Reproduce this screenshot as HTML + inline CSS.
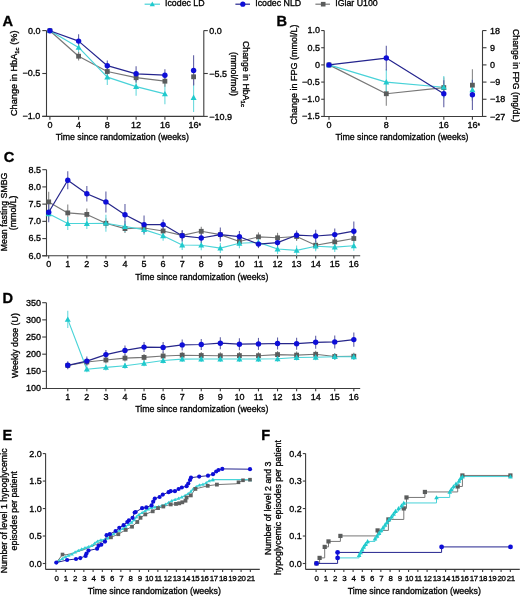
<!DOCTYPE html>
<html><head><meta charset="utf-8"><style>
html,body{margin:0;padding:0;background:#fff;-webkit-font-smoothing:antialiased;}
body{width:520px;height:596px;overflow:hidden;}
svg{display:block;will-change:transform;font-family:"Liberation Sans",sans-serif;}
text{stroke:#000;stroke-width:0.32px;paint-order:stroke;}
</style></head><body>
<svg width="520" height="596" viewBox="0 0 520 596">
<rect width="520" height="596" fill="#fff"/>
<line x1="144.6" y1="4.2" x2="160" y2="4.2" stroke="#48d2d8" stroke-width="1.2"/>
<polygon points="152.3,1.58 149.7,6.26 154.9,6.26" fill="#20cacd"/>
<text x="165" y="5.9" font-size="8.8" text-anchor="start" font-weight="normal" fill="#000">Icodec LD</text>
<line x1="235.4" y1="4.2" x2="250" y2="4.2" stroke="#24248e" stroke-width="1.2"/>
<circle cx="242.8" cy="4.2" r="2.6" fill="#0e0ed8"/>
<text x="255.2" y="5.9" font-size="8.8" text-anchor="start" font-weight="normal" fill="#000">Icodec NLD</text>
<line x1="315.4" y1="4.2" x2="330" y2="4.2" stroke="#777777" stroke-width="1.2"/>
<rect x="320.9" y="1.9" width="4.6" height="4.6" fill="#5a5c5c"/>
<text x="335.2" y="5.9" font-size="8.8" text-anchor="start" font-weight="normal" fill="#000">IGlar U100</text>
<text x="2.4" y="26.2" font-size="14.6" text-anchor="start" font-weight="bold" fill="#000">A</text>
<line x1="46.5" y1="30.6" x2="46.5" y2="116.95" stroke="#3c3c3c" stroke-width="1.1"/>
<line x1="42.3" y1="116.4" x2="203.8" y2="116.4" stroke="#3c3c3c" stroke-width="1.1"/>
<line x1="203.8" y1="30.6" x2="203.8" y2="116.95" stroke="#3c3c3c" stroke-width="1.1"/>
<line x1="42.3" y1="30.6" x2="46.5" y2="30.6" stroke="#3c3c3c" stroke-width="1.1"/>
<text x="40.4" y="33.5" font-size="9.0" text-anchor="end" font-weight="normal" fill="#000">0.0</text>
<line x1="42.3" y1="73.5" x2="46.5" y2="73.5" stroke="#3c3c3c" stroke-width="1.1"/>
<text x="40.4" y="76.4" font-size="9.0" text-anchor="end" font-weight="normal" fill="#000">−0.5</text>
<line x1="42.3" y1="116.4" x2="46.5" y2="116.4" stroke="#3c3c3c" stroke-width="1.1"/>
<text x="40.4" y="119.3" font-size="9.0" text-anchor="end" font-weight="normal" fill="#000">−1.0</text>
<line x1="203.8" y1="30.6" x2="207.8" y2="30.6" stroke="#3c3c3c" stroke-width="1.1"/>
<text x="209.3" y="33.7" font-size="9.0" text-anchor="start" font-weight="normal" fill="#000">0.0</text>
<line x1="203.8" y1="73.5" x2="207.8" y2="73.5" stroke="#3c3c3c" stroke-width="1.1"/>
<text x="209.3" y="76.6" font-size="9.0" text-anchor="start" font-weight="normal" fill="#000">−5.5</text>
<line x1="203.8" y1="116.4" x2="207.8" y2="116.4" stroke="#3c3c3c" stroke-width="1.1"/>
<text x="209.3" y="119.5" font-size="9.0" text-anchor="start" font-weight="normal" fill="#000">−10.9</text>
<line x1="49.9" y1="116.4" x2="49.9" y2="119.8" stroke="#3c3c3c" stroke-width="1.1"/>
<text x="49.9" y="128.1" font-size="9.0" text-anchor="middle" font-weight="normal" fill="#000">0</text>
<line x1="78.6" y1="116.4" x2="78.6" y2="119.8" stroke="#3c3c3c" stroke-width="1.1"/>
<text x="78.6" y="128.1" font-size="9.0" text-anchor="middle" font-weight="normal" fill="#000">4</text>
<line x1="107.3" y1="116.4" x2="107.3" y2="119.8" stroke="#3c3c3c" stroke-width="1.1"/>
<text x="107.3" y="128.1" font-size="9.0" text-anchor="middle" font-weight="normal" fill="#000">8</text>
<line x1="136.1" y1="116.4" x2="136.1" y2="119.8" stroke="#3c3c3c" stroke-width="1.1"/>
<text x="136.1" y="128.1" font-size="9.0" text-anchor="middle" font-weight="normal" fill="#000">12</text>
<line x1="164.9" y1="116.4" x2="164.9" y2="119.8" stroke="#3c3c3c" stroke-width="1.1"/>
<text x="164.9" y="128.1" font-size="9.0" text-anchor="middle" font-weight="normal" fill="#000">16</text>
<line x1="193.6" y1="116.4" x2="193.6" y2="119.8" stroke="#3c3c3c" stroke-width="1.1"/>
<text x="188.6" y="128.1" font-size="9.0" text-anchor="start" font-weight="normal" fill="#000">16<tspan font-size="6.5" dy="-0.6">*</tspan></text>
<text x="55.7" y="140.1" font-size="8.8" text-anchor="start" font-weight="normal" fill="#000">Time since randomization (weeks)</text>
<text transform="translate(16.8,73.3) rotate(-90)" font-size="9.2" text-anchor="middle" fill="#000">Change in HbA<tspan font-size="6" dy="2">1c</tspan><tspan dy="-2"> (%)</tspan></text>
<text transform="translate(243.3,73.9) rotate(90)" font-size="8.8" text-anchor="middle" fill="#000">Change in HbA<tspan font-size="6" dy="2">1c</tspan></text>
<text transform="translate(230.9,74.0) rotate(90)" font-size="8.8" text-anchor="middle" fill="#000">(mmol/mol)</text>
<line x1="78.6" y1="41.9" x2="78.6" y2="52.9" stroke="#6adade" stroke-width="1.1"/>
<line x1="78.6" y1="51.9" x2="78.6" y2="60.5" stroke="#888888" stroke-width="1.1"/>
<line x1="78.6" y1="34.2" x2="78.6" y2="48" stroke="#6262a6" stroke-width="1.1"/>
<line x1="107.3" y1="69.1" x2="107.3" y2="85.1" stroke="#6adade" stroke-width="1.1"/>
<line x1="107.3" y1="67" x2="107.3" y2="76" stroke="#888888" stroke-width="1.1"/>
<line x1="107.3" y1="60.4" x2="107.3" y2="71" stroke="#6262a6" stroke-width="1.1"/>
<line x1="136.1" y1="77.4" x2="136.1" y2="95.8" stroke="#6adade" stroke-width="1.1"/>
<line x1="136.1" y1="72.7" x2="136.1" y2="82.7" stroke="#888888" stroke-width="1.1"/>
<line x1="136.1" y1="66.2" x2="136.1" y2="81.4" stroke="#6262a6" stroke-width="1.1"/>
<line x1="164.9" y1="83.6" x2="164.9" y2="104.2" stroke="#6adade" stroke-width="1.1"/>
<line x1="164.9" y1="75.7" x2="164.9" y2="86.7" stroke="#888888" stroke-width="1.1"/>
<line x1="164.9" y1="69.2" x2="164.9" y2="81.2" stroke="#6262a6" stroke-width="1.1"/>
<line x1="193.6" y1="83.3" x2="193.6" y2="111.9" stroke="#6adade" stroke-width="1.1"/>
<line x1="193.6" y1="68.8" x2="193.6" y2="84.8" stroke="#888888" stroke-width="1.1"/>
<line x1="193.6" y1="55.2" x2="193.6" y2="85.6" stroke="#6262a6" stroke-width="1.1"/>
<polyline points="49.9,30.7 78.6,56.2 107.3,71.5 136.1,77.7 164.9,81.2" fill="none" stroke="#777777" stroke-width="1.2" stroke-linejoin="round"/>
<polyline points="49.9,30.7 78.6,47.4 107.3,77.1 136.1,86.6 164.9,93.9" fill="none" stroke="#48d2d8" stroke-width="1.2" stroke-linejoin="round"/>
<polyline points="49.9,30.7 78.6,41.1 107.3,65.7 136.1,73.8 164.9,75.2" fill="none" stroke="#24248e" stroke-width="1.2" stroke-linejoin="round"/>
<rect x="47.5" y="28.3" width="4.8" height="4.8" fill="#5a5c5c"/>
<polygon points="49.9,27.68 46.9,33.08 52.9,33.08" fill="#20cacd"/>
<circle cx="49.9" cy="30.7" r="2.7" fill="#0e0ed8"/>
<rect x="76.2" y="53.8" width="4.8" height="4.8" fill="#5a5c5c"/>
<polygon points="78.6,44.38 75.6,49.78 81.6,49.78" fill="#20cacd"/>
<circle cx="78.6" cy="41.1" r="2.7" fill="#0e0ed8"/>
<rect x="104.9" y="69.1" width="4.8" height="4.8" fill="#5a5c5c"/>
<polygon points="107.3,74.08 104.3,79.48 110.3,79.48" fill="#20cacd"/>
<circle cx="107.3" cy="65.7" r="2.7" fill="#0e0ed8"/>
<rect x="133.7" y="75.3" width="4.8" height="4.8" fill="#5a5c5c"/>
<polygon points="136.1,83.58 133.1,88.98 139.1,88.98" fill="#20cacd"/>
<circle cx="136.1" cy="73.8" r="2.7" fill="#0e0ed8"/>
<rect x="162.5" y="78.8" width="4.8" height="4.8" fill="#5a5c5c"/>
<polygon points="164.9,90.88 161.9,96.28 167.9,96.28" fill="#20cacd"/>
<circle cx="164.9" cy="75.2" r="2.7" fill="#0e0ed8"/>
<rect x="191.2" y="74.4" width="4.8" height="4.8" fill="#5a5c5c"/>
<polygon points="193.6,94.58 190.6,99.98 196.6,99.98" fill="#20cacd"/>
<circle cx="193.6" cy="70.4" r="2.7" fill="#0e0ed8"/>
<text x="276.4" y="26.2" font-size="14.6" text-anchor="start" font-weight="bold" fill="#000">B</text>
<line x1="324.2" y1="30.55" x2="324.2" y2="116.98" stroke="#3c3c3c" stroke-width="1.1"/>
<line x1="321.2" y1="116.43" x2="482.5" y2="116.43" stroke="#3c3c3c" stroke-width="1.1"/>
<line x1="482.5" y1="30.55" x2="482.5" y2="116.98" stroke="#3c3c3c" stroke-width="1.1"/>
<line x1="321.2" y1="30.55" x2="324.2" y2="30.55" stroke="#3c3c3c" stroke-width="1.1"/>
<text x="319.9" y="33.45" font-size="9.0" text-anchor="end" font-weight="normal" fill="#000">1.0</text>
<line x1="482.5" y1="30.55" x2="486.5" y2="30.55" stroke="#3c3c3c" stroke-width="1.1"/>
<text x="490" y="33.65" font-size="9.0" text-anchor="start" font-weight="normal" fill="#000">18</text>
<line x1="321.2" y1="47.73" x2="324.2" y2="47.73" stroke="#3c3c3c" stroke-width="1.1"/>
<text x="319.9" y="50.63" font-size="9.0" text-anchor="end" font-weight="normal" fill="#000">0.5</text>
<line x1="482.5" y1="47.73" x2="486.5" y2="47.73" stroke="#3c3c3c" stroke-width="1.1"/>
<text x="490" y="50.83" font-size="9.0" text-anchor="start" font-weight="normal" fill="#000">9</text>
<line x1="321.2" y1="64.9" x2="324.2" y2="64.9" stroke="#3c3c3c" stroke-width="1.1"/>
<text x="319.9" y="67.8" font-size="9.0" text-anchor="end" font-weight="normal" fill="#000">0</text>
<line x1="482.5" y1="64.9" x2="486.5" y2="64.9" stroke="#3c3c3c" stroke-width="1.1"/>
<text x="490" y="68" font-size="9.0" text-anchor="start" font-weight="normal" fill="#000">0</text>
<line x1="321.2" y1="82.08" x2="324.2" y2="82.08" stroke="#3c3c3c" stroke-width="1.1"/>
<text x="319.9" y="84.98" font-size="9.0" text-anchor="end" font-weight="normal" fill="#000">−0.5</text>
<line x1="482.5" y1="82.08" x2="486.5" y2="82.08" stroke="#3c3c3c" stroke-width="1.1"/>
<text x="490" y="85.17" font-size="9.0" text-anchor="start" font-weight="normal" fill="#000">−9</text>
<line x1="321.2" y1="99.25" x2="324.2" y2="99.25" stroke="#3c3c3c" stroke-width="1.1"/>
<text x="319.9" y="102.15" font-size="9.0" text-anchor="end" font-weight="normal" fill="#000">−1.0</text>
<line x1="482.5" y1="99.25" x2="486.5" y2="99.25" stroke="#3c3c3c" stroke-width="1.1"/>
<text x="490" y="102.35" font-size="9.0" text-anchor="start" font-weight="normal" fill="#000">−18</text>
<line x1="321.2" y1="116.43" x2="324.2" y2="116.43" stroke="#3c3c3c" stroke-width="1.1"/>
<text x="319.9" y="119.33" font-size="9.0" text-anchor="end" font-weight="normal" fill="#000">−1.5</text>
<line x1="482.5" y1="116.43" x2="486.5" y2="116.43" stroke="#3c3c3c" stroke-width="1.1"/>
<text x="490" y="119.53" font-size="9.0" text-anchor="start" font-weight="normal" fill="#000">−27</text>
<line x1="329" y1="116.43" x2="329" y2="119.83" stroke="#3c3c3c" stroke-width="1.1"/>
<text x="329" y="128.3" font-size="9.0" text-anchor="middle" font-weight="normal" fill="#000">0</text>
<line x1="386.3" y1="116.43" x2="386.3" y2="119.83" stroke="#3c3c3c" stroke-width="1.1"/>
<text x="386.3" y="128.3" font-size="9.0" text-anchor="middle" font-weight="normal" fill="#000">8</text>
<line x1="443.8" y1="116.43" x2="443.8" y2="119.83" stroke="#3c3c3c" stroke-width="1.1"/>
<text x="443.8" y="128.3" font-size="9.0" text-anchor="middle" font-weight="normal" fill="#000">16</text>
<line x1="472.4" y1="116.43" x2="472.4" y2="119.83" stroke="#3c3c3c" stroke-width="1.1"/>
<text x="467.4" y="128.3" font-size="9.0" text-anchor="start" font-weight="normal" fill="#000">16<tspan font-size="6.5" dy="-0.6">*</tspan></text>
<text x="335.4" y="140.3" font-size="8.8" text-anchor="start" font-weight="normal" fill="#000">Time since randomization (weeks)</text>
<text transform="translate(297.3,74.6) rotate(-90)" font-size="9.0" text-anchor="middle" fill="#000">Change in FPG (mmol/L)</text>
<text transform="translate(513.4,75.6) rotate(90)" font-size="8.8" text-anchor="middle" fill="#000">Change in FPG (mg/dL)</text>
<line x1="386.3" y1="81.73" x2="386.3" y2="105.78" stroke="#888888" stroke-width="1.1"/>
<line x1="386.3" y1="69.02" x2="386.3" y2="95.13" stroke="#6adade" stroke-width="1.1"/>
<line x1="386.3" y1="45.66" x2="386.3" y2="70.4" stroke="#6262a6" stroke-width="1.1"/>
<line x1="443.8" y1="77.27" x2="443.8" y2="97.88" stroke="#888888" stroke-width="1.1"/>
<line x1="443.8" y1="75.89" x2="443.8" y2="98.56" stroke="#6adade" stroke-width="1.1"/>
<line x1="443.8" y1="80.36" x2="443.8" y2="107.15" stroke="#6262a6" stroke-width="1.1"/>
<line x1="472.4" y1="69.37" x2="472.4" y2="100.97" stroke="#888888" stroke-width="1.1"/>
<line x1="472.4" y1="79.67" x2="472.4" y2="100.28" stroke="#6adade" stroke-width="1.1"/>
<line x1="472.4" y1="79.67" x2="472.4" y2="109.9" stroke="#6262a6" stroke-width="1.1"/>
<polyline points="329,64.9 386.3,93.75 443.8,87.57" fill="none" stroke="#777777" stroke-width="1.2" stroke-linejoin="round"/>
<polyline points="329,64.9 386.3,82.08 443.8,87.23" fill="none" stroke="#48d2d8" stroke-width="1.2" stroke-linejoin="round"/>
<polyline points="329,64.9 386.3,58.03 443.8,93.75" fill="none" stroke="#24248e" stroke-width="1.2" stroke-linejoin="round"/>
<rect x="326.6" y="62.5" width="4.8" height="4.8" fill="#5a5c5c"/>
<polygon points="329,61.88 326,67.28 332,67.28" fill="#20cacd"/>
<circle cx="329" cy="64.9" r="2.7" fill="#0e0ed8"/>
<rect x="383.9" y="91.35" width="4.8" height="4.8" fill="#5a5c5c"/>
<polygon points="386.3,79.05 383.3,84.45 389.3,84.45" fill="#20cacd"/>
<circle cx="386.3" cy="58.03" r="2.7" fill="#0e0ed8"/>
<rect x="441.4" y="85.17" width="4.8" height="4.8" fill="#5a5c5c"/>
<polygon points="443.8,84.2 440.8,89.6 446.8,89.6" fill="#20cacd"/>
<circle cx="443.8" cy="93.75" r="2.7" fill="#0e0ed8"/>
<rect x="470" y="82.77" width="4.8" height="4.8" fill="#5a5c5c"/>
<polygon points="472.4,86.95 469.4,92.35 475.4,92.35" fill="#20cacd"/>
<circle cx="472.4" cy="94.78" r="2.7" fill="#0e0ed8"/>
<text x="3.8" y="162.4" font-size="14.6" text-anchor="start" font-weight="bold" fill="#000">C</text>
<line x1="46.5" y1="169.68" x2="46.5" y2="256.35" stroke="#3c3c3c" stroke-width="1.1"/>
<line x1="42.2" y1="255.8" x2="360.2" y2="255.8" stroke="#3c3c3c" stroke-width="1.1"/>
<line x1="48.7" y1="255.8" x2="48.7" y2="258.6" stroke="#3c3c3c" stroke-width="1.1"/>
<text x="48.7" y="267.3" font-size="9.0" text-anchor="middle" font-weight="normal" fill="#000">0</text>
<line x1="67.77" y1="255.8" x2="67.77" y2="258.6" stroke="#3c3c3c" stroke-width="1.1"/>
<text x="67.77" y="267.3" font-size="9.0" text-anchor="middle" font-weight="normal" fill="#000">1</text>
<line x1="86.84" y1="255.8" x2="86.84" y2="258.6" stroke="#3c3c3c" stroke-width="1.1"/>
<text x="86.84" y="267.3" font-size="9.0" text-anchor="middle" font-weight="normal" fill="#000">2</text>
<line x1="105.91" y1="255.8" x2="105.91" y2="258.6" stroke="#3c3c3c" stroke-width="1.1"/>
<text x="105.91" y="267.3" font-size="9.0" text-anchor="middle" font-weight="normal" fill="#000">3</text>
<line x1="124.98" y1="255.8" x2="124.98" y2="258.6" stroke="#3c3c3c" stroke-width="1.1"/>
<text x="124.98" y="267.3" font-size="9.0" text-anchor="middle" font-weight="normal" fill="#000">4</text>
<line x1="144.05" y1="255.8" x2="144.05" y2="258.6" stroke="#3c3c3c" stroke-width="1.1"/>
<text x="144.05" y="267.3" font-size="9.0" text-anchor="middle" font-weight="normal" fill="#000">5</text>
<line x1="163.12" y1="255.8" x2="163.12" y2="258.6" stroke="#3c3c3c" stroke-width="1.1"/>
<text x="163.12" y="267.3" font-size="9.0" text-anchor="middle" font-weight="normal" fill="#000">6</text>
<line x1="182.19" y1="255.8" x2="182.19" y2="258.6" stroke="#3c3c3c" stroke-width="1.1"/>
<text x="182.19" y="267.3" font-size="9.0" text-anchor="middle" font-weight="normal" fill="#000">7</text>
<line x1="201.26" y1="255.8" x2="201.26" y2="258.6" stroke="#3c3c3c" stroke-width="1.1"/>
<text x="201.26" y="267.3" font-size="9.0" text-anchor="middle" font-weight="normal" fill="#000">8</text>
<line x1="220.33" y1="255.8" x2="220.33" y2="258.6" stroke="#3c3c3c" stroke-width="1.1"/>
<text x="220.33" y="267.3" font-size="9.0" text-anchor="middle" font-weight="normal" fill="#000">9</text>
<line x1="239.4" y1="255.8" x2="239.4" y2="258.6" stroke="#3c3c3c" stroke-width="1.1"/>
<text x="239.4" y="267.3" font-size="9.0" text-anchor="middle" font-weight="normal" fill="#000">10</text>
<line x1="258.47" y1="255.8" x2="258.47" y2="258.6" stroke="#3c3c3c" stroke-width="1.1"/>
<text x="258.47" y="267.3" font-size="9.0" text-anchor="middle" font-weight="normal" fill="#000">11</text>
<line x1="277.54" y1="255.8" x2="277.54" y2="258.6" stroke="#3c3c3c" stroke-width="1.1"/>
<text x="277.54" y="267.3" font-size="9.0" text-anchor="middle" font-weight="normal" fill="#000">12</text>
<line x1="296.61" y1="255.8" x2="296.61" y2="258.6" stroke="#3c3c3c" stroke-width="1.1"/>
<text x="296.61" y="267.3" font-size="9.0" text-anchor="middle" font-weight="normal" fill="#000">13</text>
<line x1="315.68" y1="255.8" x2="315.68" y2="258.6" stroke="#3c3c3c" stroke-width="1.1"/>
<text x="315.68" y="267.3" font-size="9.0" text-anchor="middle" font-weight="normal" fill="#000">14</text>
<line x1="334.75" y1="255.8" x2="334.75" y2="258.6" stroke="#3c3c3c" stroke-width="1.1"/>
<text x="334.75" y="267.3" font-size="9.0" text-anchor="middle" font-weight="normal" fill="#000">15</text>
<line x1="353.82" y1="255.8" x2="353.82" y2="258.6" stroke="#3c3c3c" stroke-width="1.1"/>
<text x="353.82" y="267.3" font-size="9.0" text-anchor="middle" font-weight="normal" fill="#000">16</text>
<text x="135.2" y="279.8" font-size="8.8" text-anchor="start" font-weight="normal" fill="#000">Time since randomization (weeks)</text>
<line x1="42.3" y1="255.8" x2="46.5" y2="255.8" stroke="#3c3c3c" stroke-width="1.1"/>
<text x="40.9" y="258.7" font-size="9.0" text-anchor="end" font-weight="normal" fill="#000">6.0</text>
<line x1="42.3" y1="238.58" x2="46.5" y2="238.58" stroke="#3c3c3c" stroke-width="1.1"/>
<text x="40.9" y="241.48" font-size="9.0" text-anchor="end" font-weight="normal" fill="#000">6.5</text>
<line x1="42.3" y1="221.35" x2="46.5" y2="221.35" stroke="#3c3c3c" stroke-width="1.1"/>
<text x="40.9" y="224.25" font-size="9.0" text-anchor="end" font-weight="normal" fill="#000">7.0</text>
<line x1="42.3" y1="204.12" x2="46.5" y2="204.12" stroke="#3c3c3c" stroke-width="1.1"/>
<text x="40.9" y="207.03" font-size="9.0" text-anchor="end" font-weight="normal" fill="#000">7.5</text>
<line x1="42.3" y1="186.9" x2="46.5" y2="186.9" stroke="#3c3c3c" stroke-width="1.1"/>
<text x="40.9" y="189.8" font-size="9.0" text-anchor="end" font-weight="normal" fill="#000">8.0</text>
<line x1="42.3" y1="169.68" x2="46.5" y2="169.68" stroke="#3c3c3c" stroke-width="1.1"/>
<text x="40.9" y="172.58" font-size="9.0" text-anchor="end" font-weight="normal" fill="#000">8.5</text>
<text transform="translate(6.9,211.9) rotate(-90)" font-size="8.8" text-anchor="middle" fill="#000">Mean fasting SMBG</text>
<text transform="translate(16.0,212.8) rotate(-90)" font-size="8.8" text-anchor="middle" fill="#000">(mmol/L)</text>
<line x1="48.7" y1="191.7" x2="48.7" y2="212.1" stroke="#888888" stroke-width="1.1"/>
<line x1="48.7" y1="207.8" x2="48.7" y2="219.8" stroke="#6adade" stroke-width="1.1"/>
<line x1="48.7" y1="202.3" x2="48.7" y2="222.3" stroke="#6262a6" stroke-width="1.1"/>
<line x1="67.77" y1="204.6" x2="67.77" y2="221.2" stroke="#888888" stroke-width="1.1"/>
<line x1="67.77" y1="217" x2="67.77" y2="230" stroke="#6adade" stroke-width="1.1"/>
<line x1="67.77" y1="171.2" x2="67.77" y2="189.2" stroke="#6262a6" stroke-width="1.1"/>
<line x1="86.84" y1="208.4" x2="86.84" y2="220.4" stroke="#888888" stroke-width="1.1"/>
<line x1="86.84" y1="218" x2="86.84" y2="229" stroke="#6adade" stroke-width="1.1"/>
<line x1="86.84" y1="186" x2="86.84" y2="201.4" stroke="#6262a6" stroke-width="1.1"/>
<line x1="105.91" y1="218.3" x2="105.91" y2="228.3" stroke="#888888" stroke-width="1.1"/>
<line x1="105.91" y1="214.7" x2="105.91" y2="231.7" stroke="#6adade" stroke-width="1.1"/>
<line x1="105.91" y1="191.4" x2="105.91" y2="212.4" stroke="#6262a6" stroke-width="1.1"/>
<line x1="124.98" y1="224.1" x2="124.98" y2="233.1" stroke="#888888" stroke-width="1.1"/>
<line x1="124.98" y1="221" x2="124.98" y2="232" stroke="#6adade" stroke-width="1.1"/>
<line x1="124.98" y1="203.9" x2="124.98" y2="225.5" stroke="#6262a6" stroke-width="1.1"/>
<line x1="144.05" y1="223.5" x2="144.05" y2="232.5" stroke="#888888" stroke-width="1.1"/>
<line x1="144.05" y1="224.1" x2="144.05" y2="235.1" stroke="#6adade" stroke-width="1.1"/>
<line x1="144.05" y1="215.6" x2="144.05" y2="233.6" stroke="#6262a6" stroke-width="1.1"/>
<line x1="163.12" y1="226.5" x2="163.12" y2="235.5" stroke="#888888" stroke-width="1.1"/>
<line x1="163.12" y1="230.8" x2="163.12" y2="240.8" stroke="#6adade" stroke-width="1.1"/>
<line x1="163.12" y1="219.4" x2="163.12" y2="229.8" stroke="#6262a6" stroke-width="1.1"/>
<line x1="182.19" y1="230.9" x2="182.19" y2="239.9" stroke="#888888" stroke-width="1.1"/>
<line x1="182.19" y1="240" x2="182.19" y2="250" stroke="#6adade" stroke-width="1.1"/>
<line x1="182.19" y1="230" x2="182.19" y2="241.6" stroke="#6262a6" stroke-width="1.1"/>
<line x1="201.26" y1="226.8" x2="201.26" y2="235.8" stroke="#888888" stroke-width="1.1"/>
<line x1="201.26" y1="240.2" x2="201.26" y2="250.2" stroke="#6adade" stroke-width="1.1"/>
<line x1="201.26" y1="233" x2="201.26" y2="243" stroke="#6262a6" stroke-width="1.1"/>
<line x1="220.33" y1="230.1" x2="220.33" y2="239.1" stroke="#888888" stroke-width="1.1"/>
<line x1="220.33" y1="243.1" x2="220.33" y2="253.1" stroke="#6adade" stroke-width="1.1"/>
<line x1="220.33" y1="227.6" x2="220.33" y2="241.6" stroke="#6262a6" stroke-width="1.1"/>
<line x1="239.4" y1="237" x2="239.4" y2="246" stroke="#888888" stroke-width="1.1"/>
<line x1="239.4" y1="238.3" x2="239.4" y2="248.3" stroke="#6adade" stroke-width="1.1"/>
<line x1="239.4" y1="231.1" x2="239.4" y2="242.3" stroke="#6262a6" stroke-width="1.1"/>
<line x1="258.47" y1="232.4" x2="258.47" y2="241.4" stroke="#888888" stroke-width="1.1"/>
<line x1="258.47" y1="237.4" x2="258.47" y2="247.4" stroke="#6adade" stroke-width="1.1"/>
<line x1="258.47" y1="240.1" x2="258.47" y2="248.1" stroke="#6262a6" stroke-width="1.1"/>
<line x1="277.54" y1="232.8" x2="277.54" y2="242.8" stroke="#888888" stroke-width="1.1"/>
<line x1="277.54" y1="244" x2="277.54" y2="254" stroke="#6adade" stroke-width="1.1"/>
<line x1="277.54" y1="238.6" x2="277.54" y2="246.6" stroke="#6262a6" stroke-width="1.1"/>
<line x1="296.61" y1="232" x2="296.61" y2="241" stroke="#888888" stroke-width="1.1"/>
<line x1="296.61" y1="245.4" x2="296.61" y2="255.4" stroke="#6adade" stroke-width="1.1"/>
<line x1="296.61" y1="230.4" x2="296.61" y2="240" stroke="#6262a6" stroke-width="1.1"/>
<line x1="315.68" y1="240.7" x2="315.68" y2="249.7" stroke="#888888" stroke-width="1.1"/>
<line x1="315.68" y1="241.2" x2="315.68" y2="251.2" stroke="#6adade" stroke-width="1.1"/>
<line x1="315.68" y1="229.8" x2="315.68" y2="242.2" stroke="#6262a6" stroke-width="1.1"/>
<line x1="334.75" y1="237.4" x2="334.75" y2="246.4" stroke="#888888" stroke-width="1.1"/>
<line x1="334.75" y1="242.1" x2="334.75" y2="252.1" stroke="#6adade" stroke-width="1.1"/>
<line x1="334.75" y1="228.5" x2="334.75" y2="240.7" stroke="#6262a6" stroke-width="1.1"/>
<line x1="353.82" y1="234" x2="353.82" y2="243" stroke="#888888" stroke-width="1.1"/>
<line x1="353.82" y1="240.8" x2="353.82" y2="250.8" stroke="#6adade" stroke-width="1.1"/>
<line x1="353.82" y1="221.5" x2="353.82" y2="240.9" stroke="#6262a6" stroke-width="1.1"/>
<polyline points="48.7,201.9 67.77,212.9 86.84,214.4 105.91,223.3 124.98,228.6 144.05,228 163.12,231 182.19,235.4 201.26,231.3 220.33,234.6 239.4,241.5 258.47,236.9 277.54,237.8 296.61,236.5 315.68,245.2 334.75,241.9 353.82,238.5" fill="none" stroke="#777777" stroke-width="1.15" stroke-linejoin="round"/>
<polyline points="48.7,213.8 67.77,223.5 86.84,223.5 105.91,223.2 124.98,226.5 144.05,229.6 163.12,235.8 182.19,245 201.26,245.2 220.33,248.1 239.4,243.3 258.47,242.4 277.54,249 296.61,250.4 315.68,246.2 334.75,247.1 353.82,245.8" fill="none" stroke="#4ad4d8" stroke-width="1.15" stroke-linejoin="round"/>
<polyline points="48.7,212.3 67.77,180.2 86.84,193.7 105.91,201.9 124.98,214.7 144.05,224.6 163.12,224.6 182.19,235.8 201.26,238 220.33,234.6 239.4,236.7 258.47,244.1 277.54,242.6 296.61,235.2 315.68,236 334.75,234.6 353.82,231.2" fill="none" stroke="#26268a" stroke-width="1.2" stroke-linejoin="round"/>
<rect x="46.3" y="199.5" width="4.8" height="4.8" fill="#5a5c5c"/>
<polygon points="48.7,210.78 45.7,216.18 51.7,216.18" fill="#20cacd"/>
<circle cx="48.7" cy="212.3" r="2.7" fill="#0e0ed8"/>
<rect x="65.37" y="210.5" width="4.8" height="4.8" fill="#5a5c5c"/>
<polygon points="67.77,220.48 64.77,225.88 70.77,225.88" fill="#20cacd"/>
<circle cx="67.77" cy="180.2" r="2.7" fill="#0e0ed8"/>
<rect x="84.44" y="212" width="4.8" height="4.8" fill="#5a5c5c"/>
<polygon points="86.84,220.48 83.84,225.88 89.84,225.88" fill="#20cacd"/>
<circle cx="86.84" cy="193.7" r="2.7" fill="#0e0ed8"/>
<rect x="103.51" y="220.9" width="4.8" height="4.8" fill="#5a5c5c"/>
<polygon points="105.91,220.18 102.91,225.58 108.91,225.58" fill="#20cacd"/>
<circle cx="105.91" cy="201.9" r="2.7" fill="#0e0ed8"/>
<rect x="122.58" y="226.2" width="4.8" height="4.8" fill="#5a5c5c"/>
<polygon points="124.98,223.48 121.98,228.88 127.98,228.88" fill="#20cacd"/>
<circle cx="124.98" cy="214.7" r="2.7" fill="#0e0ed8"/>
<rect x="141.65" y="225.6" width="4.8" height="4.8" fill="#5a5c5c"/>
<polygon points="144.05,226.58 141.05,231.98 147.05,231.98" fill="#20cacd"/>
<circle cx="144.05" cy="224.6" r="2.7" fill="#0e0ed8"/>
<rect x="160.72" y="228.6" width="4.8" height="4.8" fill="#5a5c5c"/>
<polygon points="163.12,232.78 160.12,238.18 166.12,238.18" fill="#20cacd"/>
<circle cx="163.12" cy="224.6" r="2.7" fill="#0e0ed8"/>
<rect x="179.79" y="233" width="4.8" height="4.8" fill="#5a5c5c"/>
<polygon points="182.19,241.98 179.19,247.38 185.19,247.38" fill="#20cacd"/>
<circle cx="182.19" cy="235.8" r="2.7" fill="#0e0ed8"/>
<rect x="198.86" y="228.9" width="4.8" height="4.8" fill="#5a5c5c"/>
<polygon points="201.26,242.18 198.26,247.58 204.26,247.58" fill="#20cacd"/>
<circle cx="201.26" cy="238" r="2.7" fill="#0e0ed8"/>
<rect x="217.93" y="232.2" width="4.8" height="4.8" fill="#5a5c5c"/>
<polygon points="220.33,245.08 217.33,250.48 223.33,250.48" fill="#20cacd"/>
<circle cx="220.33" cy="234.6" r="2.7" fill="#0e0ed8"/>
<rect x="237" y="239.1" width="4.8" height="4.8" fill="#5a5c5c"/>
<polygon points="239.4,240.28 236.4,245.68 242.4,245.68" fill="#20cacd"/>
<circle cx="239.4" cy="236.7" r="2.7" fill="#0e0ed8"/>
<rect x="256.07" y="234.5" width="4.8" height="4.8" fill="#5a5c5c"/>
<polygon points="258.47,239.38 255.47,244.78 261.47,244.78" fill="#20cacd"/>
<circle cx="258.47" cy="244.1" r="2.7" fill="#0e0ed8"/>
<rect x="275.14" y="235.4" width="4.8" height="4.8" fill="#5a5c5c"/>
<polygon points="277.54,245.98 274.54,251.38 280.54,251.38" fill="#20cacd"/>
<circle cx="277.54" cy="242.6" r="2.7" fill="#0e0ed8"/>
<rect x="294.21" y="234.1" width="4.8" height="4.8" fill="#5a5c5c"/>
<polygon points="296.61,247.38 293.61,252.78 299.61,252.78" fill="#20cacd"/>
<circle cx="296.61" cy="235.2" r="2.7" fill="#0e0ed8"/>
<rect x="313.28" y="242.8" width="4.8" height="4.8" fill="#5a5c5c"/>
<polygon points="315.68,243.18 312.68,248.58 318.68,248.58" fill="#20cacd"/>
<circle cx="315.68" cy="236" r="2.7" fill="#0e0ed8"/>
<rect x="332.35" y="239.5" width="4.8" height="4.8" fill="#5a5c5c"/>
<polygon points="334.75,244.08 331.75,249.48 337.75,249.48" fill="#20cacd"/>
<circle cx="334.75" cy="234.6" r="2.7" fill="#0e0ed8"/>
<rect x="351.42" y="236.1" width="4.8" height="4.8" fill="#5a5c5c"/>
<polygon points="353.82,242.78 350.82,248.18 356.82,248.18" fill="#20cacd"/>
<circle cx="353.82" cy="231.2" r="2.7" fill="#0e0ed8"/>
<text x="2.6" y="302.8" font-size="14.6" text-anchor="start" font-weight="bold" fill="#000">D</text>
<line x1="46.4" y1="302.7" x2="46.4" y2="389.05" stroke="#3c3c3c" stroke-width="1.1"/>
<line x1="42.2" y1="388.5" x2="360.2" y2="388.5" stroke="#3c3c3c" stroke-width="1.1"/>
<line x1="67.77" y1="388.5" x2="67.77" y2="391.3" stroke="#3c3c3c" stroke-width="1.1"/>
<text x="67.77" y="399.9" font-size="9.0" text-anchor="middle" font-weight="normal" fill="#000">1</text>
<line x1="86.84" y1="388.5" x2="86.84" y2="391.3" stroke="#3c3c3c" stroke-width="1.1"/>
<text x="86.84" y="399.9" font-size="9.0" text-anchor="middle" font-weight="normal" fill="#000">2</text>
<line x1="105.91" y1="388.5" x2="105.91" y2="391.3" stroke="#3c3c3c" stroke-width="1.1"/>
<text x="105.91" y="399.9" font-size="9.0" text-anchor="middle" font-weight="normal" fill="#000">3</text>
<line x1="124.98" y1="388.5" x2="124.98" y2="391.3" stroke="#3c3c3c" stroke-width="1.1"/>
<text x="124.98" y="399.9" font-size="9.0" text-anchor="middle" font-weight="normal" fill="#000">4</text>
<line x1="144.05" y1="388.5" x2="144.05" y2="391.3" stroke="#3c3c3c" stroke-width="1.1"/>
<text x="144.05" y="399.9" font-size="9.0" text-anchor="middle" font-weight="normal" fill="#000">5</text>
<line x1="163.12" y1="388.5" x2="163.12" y2="391.3" stroke="#3c3c3c" stroke-width="1.1"/>
<text x="163.12" y="399.9" font-size="9.0" text-anchor="middle" font-weight="normal" fill="#000">6</text>
<line x1="182.19" y1="388.5" x2="182.19" y2="391.3" stroke="#3c3c3c" stroke-width="1.1"/>
<text x="182.19" y="399.9" font-size="9.0" text-anchor="middle" font-weight="normal" fill="#000">7</text>
<line x1="201.26" y1="388.5" x2="201.26" y2="391.3" stroke="#3c3c3c" stroke-width="1.1"/>
<text x="201.26" y="399.9" font-size="9.0" text-anchor="middle" font-weight="normal" fill="#000">8</text>
<line x1="220.33" y1="388.5" x2="220.33" y2="391.3" stroke="#3c3c3c" stroke-width="1.1"/>
<text x="220.33" y="399.9" font-size="9.0" text-anchor="middle" font-weight="normal" fill="#000">9</text>
<line x1="239.4" y1="388.5" x2="239.4" y2="391.3" stroke="#3c3c3c" stroke-width="1.1"/>
<text x="239.4" y="399.9" font-size="9.0" text-anchor="middle" font-weight="normal" fill="#000">10</text>
<line x1="258.47" y1="388.5" x2="258.47" y2="391.3" stroke="#3c3c3c" stroke-width="1.1"/>
<text x="258.47" y="399.9" font-size="9.0" text-anchor="middle" font-weight="normal" fill="#000">11</text>
<line x1="277.54" y1="388.5" x2="277.54" y2="391.3" stroke="#3c3c3c" stroke-width="1.1"/>
<text x="277.54" y="399.9" font-size="9.0" text-anchor="middle" font-weight="normal" fill="#000">12</text>
<line x1="296.61" y1="388.5" x2="296.61" y2="391.3" stroke="#3c3c3c" stroke-width="1.1"/>
<text x="296.61" y="399.9" font-size="9.0" text-anchor="middle" font-weight="normal" fill="#000">13</text>
<line x1="315.68" y1="388.5" x2="315.68" y2="391.3" stroke="#3c3c3c" stroke-width="1.1"/>
<text x="315.68" y="399.9" font-size="9.0" text-anchor="middle" font-weight="normal" fill="#000">14</text>
<line x1="334.75" y1="388.5" x2="334.75" y2="391.3" stroke="#3c3c3c" stroke-width="1.1"/>
<text x="334.75" y="399.9" font-size="9.0" text-anchor="middle" font-weight="normal" fill="#000">15</text>
<line x1="353.82" y1="388.5" x2="353.82" y2="391.3" stroke="#3c3c3c" stroke-width="1.1"/>
<text x="353.82" y="399.9" font-size="9.0" text-anchor="middle" font-weight="normal" fill="#000">16</text>
<text x="135.2" y="412.1" font-size="8.8" text-anchor="start" font-weight="normal" fill="#000">Time since randomization (weeks)</text>
<line x1="42.2" y1="388.5" x2="46.4" y2="388.5" stroke="#3c3c3c" stroke-width="1.1"/>
<text x="41.1" y="391.4" font-size="9.0" text-anchor="end" font-weight="normal" fill="#000">100</text>
<line x1="42.2" y1="371.34" x2="46.4" y2="371.34" stroke="#3c3c3c" stroke-width="1.1"/>
<text x="41.1" y="374.24" font-size="9.0" text-anchor="end" font-weight="normal" fill="#000">150</text>
<line x1="42.2" y1="354.18" x2="46.4" y2="354.18" stroke="#3c3c3c" stroke-width="1.1"/>
<text x="41.1" y="357.08" font-size="9.0" text-anchor="end" font-weight="normal" fill="#000">200</text>
<line x1="42.2" y1="337.02" x2="46.4" y2="337.02" stroke="#3c3c3c" stroke-width="1.1"/>
<text x="41.1" y="339.92" font-size="9.0" text-anchor="end" font-weight="normal" fill="#000">250</text>
<line x1="42.2" y1="319.86" x2="46.4" y2="319.86" stroke="#3c3c3c" stroke-width="1.1"/>
<text x="41.1" y="322.76" font-size="9.0" text-anchor="end" font-weight="normal" fill="#000">300</text>
<line x1="42.2" y1="302.7" x2="46.4" y2="302.7" stroke="#3c3c3c" stroke-width="1.1"/>
<text x="41.1" y="305.6" font-size="9.0" text-anchor="end" font-weight="normal" fill="#000">350</text>
<text transform="translate(17.6,345.6) rotate(-90)" font-size="8.8" text-anchor="middle" fill="#000">Weekly dose (U)</text>
<line x1="67.77" y1="362.5" x2="67.77" y2="368.5" stroke="#888888" stroke-width="1.1"/>
<line x1="67.77" y1="310.8" x2="67.77" y2="328" stroke="#6adade" stroke-width="1.1"/>
<line x1="67.77" y1="361.3" x2="67.77" y2="369.3" stroke="#6262a6" stroke-width="1.1"/>
<line x1="86.84" y1="358.5" x2="86.84" y2="365.5" stroke="#888888" stroke-width="1.1"/>
<line x1="86.84" y1="366.2" x2="86.84" y2="372.2" stroke="#6adade" stroke-width="1.1"/>
<line x1="86.84" y1="356.6" x2="86.84" y2="365.6" stroke="#6262a6" stroke-width="1.1"/>
<line x1="105.91" y1="356.5" x2="105.91" y2="363.5" stroke="#888888" stroke-width="1.1"/>
<line x1="105.91" y1="364.4" x2="105.91" y2="370.4" stroke="#6adade" stroke-width="1.1"/>
<line x1="105.91" y1="350.1" x2="105.91" y2="359.1" stroke="#6262a6" stroke-width="1.1"/>
<line x1="124.98" y1="354.6" x2="124.98" y2="361.6" stroke="#888888" stroke-width="1.1"/>
<line x1="124.98" y1="362.7" x2="124.98" y2="368.7" stroke="#6adade" stroke-width="1.1"/>
<line x1="124.98" y1="345.4" x2="124.98" y2="355.4" stroke="#6262a6" stroke-width="1.1"/>
<line x1="144.05" y1="353.9" x2="144.05" y2="360.9" stroke="#888888" stroke-width="1.1"/>
<line x1="144.05" y1="360.3" x2="144.05" y2="366.3" stroke="#6adade" stroke-width="1.1"/>
<line x1="144.05" y1="342.1" x2="144.05" y2="352.1" stroke="#6262a6" stroke-width="1.1"/>
<line x1="163.12" y1="352.5" x2="163.12" y2="359.5" stroke="#888888" stroke-width="1.1"/>
<line x1="163.12" y1="357.5" x2="163.12" y2="363.5" stroke="#6adade" stroke-width="1.1"/>
<line x1="163.12" y1="341.9" x2="163.12" y2="352.9" stroke="#6262a6" stroke-width="1.1"/>
<line x1="182.19" y1="351.7" x2="182.19" y2="358.7" stroke="#888888" stroke-width="1.1"/>
<line x1="182.19" y1="356.1" x2="182.19" y2="362.1" stroke="#6adade" stroke-width="1.1"/>
<line x1="182.19" y1="339.4" x2="182.19" y2="350.4" stroke="#6262a6" stroke-width="1.1"/>
<line x1="201.26" y1="352" x2="201.26" y2="359" stroke="#888888" stroke-width="1.1"/>
<line x1="201.26" y1="356" x2="201.26" y2="362" stroke="#6adade" stroke-width="1.1"/>
<line x1="201.26" y1="339" x2="201.26" y2="350" stroke="#6262a6" stroke-width="1.1"/>
<line x1="220.33" y1="352.3" x2="220.33" y2="359.3" stroke="#888888" stroke-width="1.1"/>
<line x1="220.33" y1="356" x2="220.33" y2="362" stroke="#6adade" stroke-width="1.1"/>
<line x1="220.33" y1="337.2" x2="220.33" y2="349.2" stroke="#6262a6" stroke-width="1.1"/>
<line x1="239.4" y1="352.1" x2="239.4" y2="359.1" stroke="#888888" stroke-width="1.1"/>
<line x1="239.4" y1="356" x2="239.4" y2="362" stroke="#6adade" stroke-width="1.1"/>
<line x1="239.4" y1="338.2" x2="239.4" y2="350.2" stroke="#6262a6" stroke-width="1.1"/>
<line x1="258.47" y1="352.2" x2="258.47" y2="359.2" stroke="#888888" stroke-width="1.1"/>
<line x1="258.47" y1="356" x2="258.47" y2="362" stroke="#6adade" stroke-width="1.1"/>
<line x1="258.47" y1="337.9" x2="258.47" y2="349.9" stroke="#6262a6" stroke-width="1.1"/>
<line x1="277.54" y1="351.1" x2="277.54" y2="358.1" stroke="#888888" stroke-width="1.1"/>
<line x1="277.54" y1="355.8" x2="277.54" y2="361.8" stroke="#6adade" stroke-width="1.1"/>
<line x1="277.54" y1="337.5" x2="277.54" y2="349.5" stroke="#6262a6" stroke-width="1.1"/>
<line x1="296.61" y1="351.6" x2="296.61" y2="358.6" stroke="#888888" stroke-width="1.1"/>
<line x1="296.61" y1="354.5" x2="296.61" y2="360.5" stroke="#6adade" stroke-width="1.1"/>
<line x1="296.61" y1="337.7" x2="296.61" y2="349.7" stroke="#6262a6" stroke-width="1.1"/>
<line x1="315.68" y1="350.8" x2="315.68" y2="357.8" stroke="#888888" stroke-width="1.1"/>
<line x1="315.68" y1="354.3" x2="315.68" y2="360.3" stroke="#6adade" stroke-width="1.1"/>
<line x1="315.68" y1="335.8" x2="315.68" y2="348.8" stroke="#6262a6" stroke-width="1.1"/>
<line x1="334.75" y1="353" x2="334.75" y2="360" stroke="#888888" stroke-width="1.1"/>
<line x1="334.75" y1="353.7" x2="334.75" y2="359.7" stroke="#6adade" stroke-width="1.1"/>
<line x1="334.75" y1="335.4" x2="334.75" y2="348.4" stroke="#6262a6" stroke-width="1.1"/>
<line x1="353.82" y1="352.7" x2="353.82" y2="359.7" stroke="#888888" stroke-width="1.1"/>
<line x1="353.82" y1="353.8" x2="353.82" y2="359.8" stroke="#6adade" stroke-width="1.1"/>
<line x1="353.82" y1="332.4" x2="353.82" y2="346.8" stroke="#6262a6" stroke-width="1.1"/>
<polyline points="67.77,365.5 86.84,362 105.91,360 124.98,358.1 144.05,357.4 163.12,356 182.19,355.2 201.26,355.5 220.33,355.8 239.4,355.6 258.47,355.7 277.54,354.6 296.61,355.1 315.68,354.3 334.75,356.5 353.82,356.2" fill="none" stroke="#777777" stroke-width="1.15" stroke-linejoin="round"/>
<polyline points="67.77,319.4 86.84,369.2 105.91,367.4 124.98,365.7 144.05,363.3 163.12,360.5 182.19,359.1 201.26,359 220.33,359 239.4,359 258.47,359 277.54,358.8 296.61,357.5 315.68,357.3 334.75,356.7 353.82,356.8" fill="none" stroke="#4ad4d8" stroke-width="1.15" stroke-linejoin="round"/>
<polyline points="67.77,365.3 86.84,361.1 105.91,354.6 124.98,350.4 144.05,347.1 163.12,347.4 182.19,344.9 201.26,344.5 220.33,343.2 239.4,344.2 258.47,343.9 277.54,343.5 296.61,343.7 315.68,342.3 334.75,341.9 353.82,339.6" fill="none" stroke="#26268a" stroke-width="1.2" stroke-linejoin="round"/>
<rect x="65.37" y="363.1" width="4.8" height="4.8" fill="#5a5c5c"/>
<polygon points="67.77,316.38 64.77,321.78 70.77,321.78" fill="#20cacd"/>
<circle cx="67.77" cy="365.3" r="2.7" fill="#0e0ed8"/>
<rect x="84.44" y="359.6" width="4.8" height="4.8" fill="#5a5c5c"/>
<polygon points="86.84,366.18 83.84,371.58 89.84,371.58" fill="#20cacd"/>
<circle cx="86.84" cy="361.1" r="2.7" fill="#0e0ed8"/>
<rect x="103.51" y="357.6" width="4.8" height="4.8" fill="#5a5c5c"/>
<polygon points="105.91,364.38 102.91,369.78 108.91,369.78" fill="#20cacd"/>
<circle cx="105.91" cy="354.6" r="2.7" fill="#0e0ed8"/>
<rect x="122.58" y="355.7" width="4.8" height="4.8" fill="#5a5c5c"/>
<polygon points="124.98,362.68 121.98,368.08 127.98,368.08" fill="#20cacd"/>
<circle cx="124.98" cy="350.4" r="2.7" fill="#0e0ed8"/>
<rect x="141.65" y="355" width="4.8" height="4.8" fill="#5a5c5c"/>
<polygon points="144.05,360.28 141.05,365.68 147.05,365.68" fill="#20cacd"/>
<circle cx="144.05" cy="347.1" r="2.7" fill="#0e0ed8"/>
<rect x="160.72" y="353.6" width="4.8" height="4.8" fill="#5a5c5c"/>
<polygon points="163.12,357.48 160.12,362.88 166.12,362.88" fill="#20cacd"/>
<circle cx="163.12" cy="347.4" r="2.7" fill="#0e0ed8"/>
<rect x="179.79" y="352.8" width="4.8" height="4.8" fill="#5a5c5c"/>
<polygon points="182.19,356.08 179.19,361.48 185.19,361.48" fill="#20cacd"/>
<circle cx="182.19" cy="344.9" r="2.7" fill="#0e0ed8"/>
<rect x="198.86" y="353.1" width="4.8" height="4.8" fill="#5a5c5c"/>
<polygon points="201.26,355.98 198.26,361.38 204.26,361.38" fill="#20cacd"/>
<circle cx="201.26" cy="344.5" r="2.7" fill="#0e0ed8"/>
<rect x="217.93" y="353.4" width="4.8" height="4.8" fill="#5a5c5c"/>
<polygon points="220.33,355.98 217.33,361.38 223.33,361.38" fill="#20cacd"/>
<circle cx="220.33" cy="343.2" r="2.7" fill="#0e0ed8"/>
<rect x="237" y="353.2" width="4.8" height="4.8" fill="#5a5c5c"/>
<polygon points="239.4,355.98 236.4,361.38 242.4,361.38" fill="#20cacd"/>
<circle cx="239.4" cy="344.2" r="2.7" fill="#0e0ed8"/>
<rect x="256.07" y="353.3" width="4.8" height="4.8" fill="#5a5c5c"/>
<polygon points="258.47,355.98 255.47,361.38 261.47,361.38" fill="#20cacd"/>
<circle cx="258.47" cy="343.9" r="2.7" fill="#0e0ed8"/>
<rect x="275.14" y="352.2" width="4.8" height="4.8" fill="#5a5c5c"/>
<polygon points="277.54,355.78 274.54,361.18 280.54,361.18" fill="#20cacd"/>
<circle cx="277.54" cy="343.5" r="2.7" fill="#0e0ed8"/>
<rect x="294.21" y="352.7" width="4.8" height="4.8" fill="#5a5c5c"/>
<polygon points="296.61,354.48 293.61,359.88 299.61,359.88" fill="#20cacd"/>
<circle cx="296.61" cy="343.7" r="2.7" fill="#0e0ed8"/>
<rect x="313.28" y="351.9" width="4.8" height="4.8" fill="#5a5c5c"/>
<polygon points="315.68,354.28 312.68,359.68 318.68,359.68" fill="#20cacd"/>
<circle cx="315.68" cy="342.3" r="2.7" fill="#0e0ed8"/>
<rect x="332.35" y="354.1" width="4.8" height="4.8" fill="#5a5c5c"/>
<polygon points="334.75,353.68 331.75,359.08 337.75,359.08" fill="#20cacd"/>
<circle cx="334.75" cy="341.9" r="2.7" fill="#0e0ed8"/>
<rect x="351.42" y="353.8" width="4.8" height="4.8" fill="#5a5c5c"/>
<polygon points="353.82,353.78 350.82,359.18 356.82,359.18" fill="#20cacd"/>
<circle cx="353.82" cy="339.6" r="2.7" fill="#0e0ed8"/>
<text x="2.6" y="440.2" font-size="14.6" text-anchor="start" font-weight="bold" fill="#000">E</text>
<line x1="45.6" y1="453.6" x2="45.6" y2="564" stroke="#3c3c3c" stroke-width="1.1"/>
<line x1="42.8" y1="563.5" x2="45.6" y2="563.5" stroke="#3c3c3c" stroke-width="1.1"/>
<text x="41.7" y="566.6" font-size="9.0" text-anchor="end" font-weight="normal" fill="#000">0.0</text>
<line x1="42.8" y1="536.02" x2="45.6" y2="536.02" stroke="#3c3c3c" stroke-width="1.1"/>
<text x="41.7" y="539.12" font-size="9.0" text-anchor="end" font-weight="normal" fill="#000">0.5</text>
<line x1="42.8" y1="508.54" x2="45.6" y2="508.54" stroke="#3c3c3c" stroke-width="1.1"/>
<text x="41.7" y="511.64" font-size="9.0" text-anchor="end" font-weight="normal" fill="#000">1.0</text>
<line x1="42.8" y1="481.06" x2="45.6" y2="481.06" stroke="#3c3c3c" stroke-width="1.1"/>
<text x="41.7" y="484.16" font-size="9.0" text-anchor="end" font-weight="normal" fill="#000">1.5</text>
<line x1="42.8" y1="453.58" x2="45.6" y2="453.58" stroke="#3c3c3c" stroke-width="1.1"/>
<text x="41.7" y="456.68" font-size="9.0" text-anchor="end" font-weight="normal" fill="#000">2.0</text>
<line x1="45.6" y1="569.4" x2="259.8" y2="569.4" stroke="#3c3c3c" stroke-width="1.1"/>
<line x1="45.6" y1="563.5" x2="45.6" y2="569.4" stroke="#3c3c3c" stroke-width="1.1"/>
<line x1="56.1" y1="569.4" x2="56.1" y2="572" stroke="#3c3c3c" stroke-width="1.1"/>
<text x="56.4" y="580.7" font-size="7.9" text-anchor="middle" font-weight="normal" fill="#000" letter-spacing="-0.45" style="stroke-width:0.3px">0</text>
<line x1="65.35" y1="569.4" x2="65.35" y2="572" stroke="#3c3c3c" stroke-width="1.1"/>
<text x="65.65" y="580.7" font-size="7.9" text-anchor="middle" font-weight="normal" fill="#000" letter-spacing="-0.45" style="stroke-width:0.3px">1</text>
<line x1="74.6" y1="569.4" x2="74.6" y2="572" stroke="#3c3c3c" stroke-width="1.1"/>
<text x="74.9" y="580.7" font-size="7.9" text-anchor="middle" font-weight="normal" fill="#000" letter-spacing="-0.45" style="stroke-width:0.3px">2</text>
<line x1="83.85" y1="569.4" x2="83.85" y2="572" stroke="#3c3c3c" stroke-width="1.1"/>
<text x="84.15" y="580.7" font-size="7.9" text-anchor="middle" font-weight="normal" fill="#000" letter-spacing="-0.45" style="stroke-width:0.3px">3</text>
<line x1="93.1" y1="569.4" x2="93.1" y2="572" stroke="#3c3c3c" stroke-width="1.1"/>
<text x="93.4" y="580.7" font-size="7.9" text-anchor="middle" font-weight="normal" fill="#000" letter-spacing="-0.45" style="stroke-width:0.3px">4</text>
<line x1="102.35" y1="569.4" x2="102.35" y2="572" stroke="#3c3c3c" stroke-width="1.1"/>
<text x="102.65" y="580.7" font-size="7.9" text-anchor="middle" font-weight="normal" fill="#000" letter-spacing="-0.45" style="stroke-width:0.3px">5</text>
<line x1="111.6" y1="569.4" x2="111.6" y2="572" stroke="#3c3c3c" stroke-width="1.1"/>
<text x="111.9" y="580.7" font-size="7.9" text-anchor="middle" font-weight="normal" fill="#000" letter-spacing="-0.45" style="stroke-width:0.3px">6</text>
<line x1="120.85" y1="569.4" x2="120.85" y2="572" stroke="#3c3c3c" stroke-width="1.1"/>
<text x="121.15" y="580.7" font-size="7.9" text-anchor="middle" font-weight="normal" fill="#000" letter-spacing="-0.45" style="stroke-width:0.3px">7</text>
<line x1="130.1" y1="569.4" x2="130.1" y2="572" stroke="#3c3c3c" stroke-width="1.1"/>
<text x="130.4" y="580.7" font-size="7.9" text-anchor="middle" font-weight="normal" fill="#000" letter-spacing="-0.45" style="stroke-width:0.3px">8</text>
<line x1="139.35" y1="569.4" x2="139.35" y2="572" stroke="#3c3c3c" stroke-width="1.1"/>
<text x="139.65" y="580.7" font-size="7.9" text-anchor="middle" font-weight="normal" fill="#000" letter-spacing="-0.45" style="stroke-width:0.3px">9</text>
<line x1="148.6" y1="569.4" x2="148.6" y2="572" stroke="#3c3c3c" stroke-width="1.1"/>
<text x="148.9" y="580.7" font-size="7.9" text-anchor="middle" font-weight="normal" fill="#000" letter-spacing="-0.45" style="stroke-width:0.3px">10</text>
<line x1="157.85" y1="569.4" x2="157.85" y2="572" stroke="#3c3c3c" stroke-width="1.1"/>
<text x="158.15" y="580.7" font-size="7.9" text-anchor="middle" font-weight="normal" fill="#000" letter-spacing="-0.45" style="stroke-width:0.3px">11</text>
<line x1="167.1" y1="569.4" x2="167.1" y2="572" stroke="#3c3c3c" stroke-width="1.1"/>
<text x="167.4" y="580.7" font-size="7.9" text-anchor="middle" font-weight="normal" fill="#000" letter-spacing="-0.45" style="stroke-width:0.3px">12</text>
<line x1="176.35" y1="569.4" x2="176.35" y2="572" stroke="#3c3c3c" stroke-width="1.1"/>
<text x="176.65" y="580.7" font-size="7.9" text-anchor="middle" font-weight="normal" fill="#000" letter-spacing="-0.45" style="stroke-width:0.3px">13</text>
<line x1="185.6" y1="569.4" x2="185.6" y2="572" stroke="#3c3c3c" stroke-width="1.1"/>
<text x="185.9" y="580.7" font-size="7.9" text-anchor="middle" font-weight="normal" fill="#000" letter-spacing="-0.45" style="stroke-width:0.3px">14</text>
<line x1="194.85" y1="569.4" x2="194.85" y2="572" stroke="#3c3c3c" stroke-width="1.1"/>
<text x="195.15" y="580.7" font-size="7.9" text-anchor="middle" font-weight="normal" fill="#000" letter-spacing="-0.45" style="stroke-width:0.3px">15</text>
<line x1="204.1" y1="569.4" x2="204.1" y2="572" stroke="#3c3c3c" stroke-width="1.1"/>
<text x="204.4" y="580.7" font-size="7.9" text-anchor="middle" font-weight="normal" fill="#000" letter-spacing="-0.45" style="stroke-width:0.3px">16</text>
<line x1="213.35" y1="569.4" x2="213.35" y2="572" stroke="#3c3c3c" stroke-width="1.1"/>
<text x="213.65" y="580.7" font-size="7.9" text-anchor="middle" font-weight="normal" fill="#000" letter-spacing="-0.45" style="stroke-width:0.3px">17</text>
<line x1="222.6" y1="569.4" x2="222.6" y2="572" stroke="#3c3c3c" stroke-width="1.1"/>
<text x="222.9" y="580.7" font-size="7.9" text-anchor="middle" font-weight="normal" fill="#000" letter-spacing="-0.45" style="stroke-width:0.3px">18</text>
<line x1="231.85" y1="569.4" x2="231.85" y2="572" stroke="#3c3c3c" stroke-width="1.1"/>
<text x="232.15" y="580.7" font-size="7.9" text-anchor="middle" font-weight="normal" fill="#000" letter-spacing="-0.45" style="stroke-width:0.3px">19</text>
<line x1="241.1" y1="569.4" x2="241.1" y2="572" stroke="#3c3c3c" stroke-width="1.1"/>
<text x="241.4" y="580.7" font-size="7.9" text-anchor="middle" font-weight="normal" fill="#000" letter-spacing="-0.45" style="stroke-width:0.3px">20</text>
<line x1="250.35" y1="569.4" x2="250.35" y2="572" stroke="#3c3c3c" stroke-width="1.1"/>
<text x="250.65" y="580.7" font-size="7.9" text-anchor="middle" font-weight="normal" fill="#000" letter-spacing="-0.45" style="stroke-width:0.3px">21</text>
<text x="87.7" y="593.7" font-size="8.8" text-anchor="start" font-weight="normal" fill="#000">Time since randomization (weeks)</text>
<text transform="translate(6.6,510.8) rotate(-90)" font-size="8.8" text-anchor="middle" fill="#000">Number of level 1 hypoglycemic</text>
<text transform="translate(16.8,510.8) rotate(-90)" font-size="8.8" text-anchor="middle" fill="#000">episodes per patient</text>
<polyline points="56.3,562.6 62.5,554.5 66,554.8 72,553.5 78,551.5 84,549.5 90,547 96,544.5 102,541.5 106,539.5 110.9,537.3 118.3,534.2 125.7,529.9 132,526.7 137.3,522 140.5,517.8 145.3,514.4 152.7,511.3 158,508.1 163.3,506.5 170.7,504.4 176,503.9 179.2,503.3 182.3,502.3 185.5,500.7 186.6,497.5 190.8,495.4 195.4,488.9 207.7,485.8 216.9,484.6 236.2,483.8 238.5,482.3 243,480.3 250,479.7" fill="none" stroke="#777777" stroke-width="1.0" stroke-linejoin="round"/>
<polyline points="56.3,562.6 64.4,557.3 72.1,554 76,551.5 81.7,549.1 88.5,546.7 92.3,545.3 96.2,541.9 99,540.5 105.6,539.4 110.9,535.7 116.2,532 122.5,528.9 126.7,525.7 131.5,522.5 135.2,518.8 137.3,515.6 141.6,513 150.6,507.6 159,506.5 166.5,503.9 171.7,500.7 178.1,498.6 184.4,495.9 189.7,492.8 194,488 198.5,485.4 204.6,483.8 209.2,480.8 213,479.7 250,479.7" fill="none" stroke="#48d4d8" stroke-width="1.3" stroke-linejoin="round"/>
<polygon points="56.3,560.79 54.5,564.03 58.1,564.03" fill="#36d0d4"/>
<polygon points="59.31,558.81 57.51,562.05 61.11,562.05" fill="#36d0d4"/>
<polygon points="62.32,556.84 60.52,560.08 64.12,560.08" fill="#36d0d4"/>
<polygon points="65.43,555.04 63.63,558.28 67.23,558.28" fill="#36d0d4"/>
<polygon points="68.74,553.63 66.94,556.87 70.54,556.87" fill="#36d0d4"/>
<polygon points="72.05,552.21 70.25,555.45 73.85,555.45" fill="#36d0d4"/>
<polygon points="75.08,550.27 73.28,553.51 76.88,553.51" fill="#36d0d4"/>
<polygon points="78.31,548.71 76.51,551.95 80.11,551.95" fill="#36d0d4"/>
<polygon points="81.63,547.31 79.83,550.55 83.43,550.55" fill="#36d0d4"/>
<polygon points="85.02,546.11 83.22,549.35 86.82,549.35" fill="#36d0d4"/>
<polygon points="88.42,544.91 86.62,548.15 90.22,548.15" fill="#36d0d4"/>
<polygon points="91.8,543.67 90,546.91 93.6,546.91" fill="#36d0d4"/>
<polygon points="94.61,541.47 92.81,544.71 96.41,544.71" fill="#36d0d4"/>
<polygon points="97.53,539.42 95.73,542.66 99.33,542.66" fill="#36d0d4"/>
<polygon points="100.93,538.36 99.13,541.6 102.73,541.6" fill="#36d0d4"/>
<polygon points="104.48,537.77 102.68,541.01 106.28,541.01" fill="#36d0d4"/>
<polygon points="107.62,536.17 105.82,539.41 109.42,539.41" fill="#36d0d4"/>
<polygon points="110.58,534.11 108.78,537.35 112.38,537.35" fill="#36d0d4"/>
<polygon points="113.53,532.05 111.73,535.29 115.33,535.29" fill="#36d0d4"/>
<polygon points="116.51,530.03 114.71,533.27 118.31,533.27" fill="#36d0d4"/>
<polygon points="119.74,528.45 117.94,531.69 121.54,531.69" fill="#36d0d4"/>
<polygon points="122.91,526.77 121.11,530.01 124.71,530.01" fill="#36d0d4"/>
<polygon points="125.78,524.59 123.98,527.83 127.58,527.83" fill="#36d0d4"/>
<polygon points="128.73,522.53 126.93,525.77 130.53,525.77" fill="#36d0d4"/>
<polygon points="131.69,520.49 129.89,523.73 133.49,523.73" fill="#36d0d4"/>
<polygon points="134.24,517.95 132.44,521.19 136.04,521.19" fill="#36d0d4"/>
<polygon points="136.43,515.11 134.63,518.35 138.23,518.35" fill="#36d0d4"/>
<polygon points="139.02,512.74 137.22,515.98 140.82,515.98" fill="#36d0d4"/>
<polygon points="142.1,510.88 140.3,514.12 143.9,514.12" fill="#36d0d4"/>
<polygon points="145.19,509.03 143.39,512.27 146.99,512.27" fill="#36d0d4"/>
<polygon points="148.28,507.18 146.48,510.42 150.08,510.42" fill="#36d0d4"/>
<polygon points="151.48,505.67 149.68,508.91 153.28,508.91" fill="#36d0d4"/>
<polygon points="155.05,505.2 153.25,508.44 156.85,508.44" fill="#36d0d4"/>
<polygon points="158.62,504.74 156.82,507.98 160.42,507.98" fill="#36d0d4"/>
<polygon points="162.04,503.63 160.24,506.87 163.84,506.87" fill="#36d0d4"/>
<polygon points="165.44,502.45 163.64,505.69 167.24,505.69" fill="#36d0d4"/>
<polygon points="168.61,500.79 166.81,504.03 170.41,504.03" fill="#36d0d4"/>
<polygon points="171.68,498.9 169.88,502.14 173.48,502.14" fill="#36d0d4"/>
<polygon points="175.1,497.77 173.3,501.01 176.9,501.01" fill="#36d0d4"/>
<polygon points="178.5,496.61 176.7,499.85 180.3,499.85" fill="#36d0d4"/>
<polygon points="181.81,495.19 180.01,498.43 183.61,498.43" fill="#36d0d4"/>
<polygon points="185.08,493.69 183.28,496.93 186.88,496.93" fill="#36d0d4"/>
<polygon points="188.19,491.87 186.39,495.11 189.99,495.11" fill="#36d0d4"/>
<polygon points="190.93,489.61 189.13,492.85 192.73,492.85" fill="#36d0d4"/>
<polygon points="193.33,486.93 191.53,490.17 195.13,490.17" fill="#36d0d4"/>
<polygon points="196.25,484.88 194.45,488.12 198.05,488.12" fill="#36d0d4"/>
<polygon points="199.47,483.33 197.67,486.57 201.27,486.57" fill="#36d0d4"/>
<polygon points="202.95,482.42 201.15,485.66 204.75,485.66" fill="#36d0d4"/>
<polygon points="206.19,480.95 204.39,484.19 207.99,484.19" fill="#36d0d4"/>
<polygon points="209.21,478.98 207.41,482.22 211.01,482.22" fill="#36d0d4"/>
<polygon points="212.66,477.98 210.86,481.22 214.46,481.22" fill="#36d0d4"/>
<polygon points="213,477.78 211.1,481.2 214.9,481.2" fill="#20cacd"/>
<polygon points="250,477.68 248,481.28 252,481.28" fill="#20cacd"/>
<rect x="109" y="535.4" width="3.8" height="3.8" fill="#606262"/>
<rect x="116.4" y="532.3" width="3.8" height="3.8" fill="#606262"/>
<rect x="123.8" y="528" width="3.8" height="3.8" fill="#606262"/>
<rect x="130.1" y="524.8" width="3.8" height="3.8" fill="#606262"/>
<rect x="135.4" y="520.1" width="3.8" height="3.8" fill="#606262"/>
<rect x="138.6" y="515.9" width="3.8" height="3.8" fill="#606262"/>
<rect x="143.4" y="512.5" width="3.8" height="3.8" fill="#606262"/>
<rect x="150.8" y="509.4" width="3.8" height="3.8" fill="#606262"/>
<rect x="156.1" y="506.2" width="3.8" height="3.8" fill="#606262"/>
<rect x="161.4" y="504.6" width="3.8" height="3.8" fill="#606262"/>
<rect x="168.8" y="502.5" width="3.8" height="3.8" fill="#606262"/>
<rect x="174.1" y="502" width="3.8" height="3.8" fill="#606262"/>
<rect x="177.3" y="501.4" width="3.8" height="3.8" fill="#606262"/>
<rect x="180.4" y="500.4" width="3.8" height="3.8" fill="#606262"/>
<rect x="183.6" y="498.8" width="3.8" height="3.8" fill="#606262"/>
<rect x="184.7" y="495.6" width="3.8" height="3.8" fill="#606262"/>
<rect x="188.9" y="493.5" width="3.8" height="3.8" fill="#606262"/>
<rect x="193.5" y="487" width="3.8" height="3.8" fill="#606262"/>
<rect x="205.8" y="483.9" width="3.8" height="3.8" fill="#606262"/>
<rect x="215" y="482.7" width="3.8" height="3.8" fill="#606262"/>
<rect x="60.7" y="552.7" width="3.6" height="3.6" fill="#606262"/>
<rect x="248.2" y="477.9" width="3.6" height="3.6" fill="#5a5c5c"/>
<rect x="241.2" y="478.5" width="3.6" height="3.6" fill="#5a5c5c"/>
<rect x="236.7" y="480.5" width="3.6" height="3.6" fill="#5a5c5c"/>
<polyline points="56.3,562.6 67.1,560 76,559 80.3,558.1 85.6,555.9 86.5,553.5 88.5,550.6 97.1,548.7 98.6,545.8 101.3,544.7 105,541.6 106.6,535.2 109.8,534.2 115.6,531 119.3,527.8 123.6,525.2 127.3,522 128.9,520.4 132.6,517.8 134.7,512.5 135.7,512 142.1,508.2 146.3,507.4 151.6,505.4 153.2,501.7 154.8,498.6 159.6,497 162.8,494.6 168.6,492.2 170.7,491.2 174.9,491.2 178.6,489 181.8,487.5 186.6,486.2 188.3,483.5 190,480 191,477.7 199.2,476.6 208,475.7 213,474.2 216.2,471.5 218.5,470 222.3,468.9 250,469.2" fill="none" stroke="#24248e" stroke-width="1.0" stroke-linejoin="round"/>
<circle cx="56.3" cy="562.6" r="2.1" fill="#0e0ed8"/>
<circle cx="67.1" cy="560" r="2.1" fill="#0e0ed8"/>
<circle cx="76" cy="559" r="2.1" fill="#0e0ed8"/>
<circle cx="80.3" cy="558.1" r="2.1" fill="#0e0ed8"/>
<circle cx="85.6" cy="555.9" r="2.1" fill="#0e0ed8"/>
<circle cx="86.5" cy="553.5" r="2.1" fill="#0e0ed8"/>
<circle cx="88.5" cy="550.6" r="2.1" fill="#0e0ed8"/>
<circle cx="97.1" cy="548.7" r="2.1" fill="#0e0ed8"/>
<circle cx="98.6" cy="545.8" r="2.1" fill="#0e0ed8"/>
<circle cx="101.3" cy="544.7" r="2.1" fill="#0e0ed8"/>
<circle cx="105" cy="541.6" r="2.1" fill="#0e0ed8"/>
<circle cx="106.6" cy="535.2" r="2.1" fill="#0e0ed8"/>
<circle cx="109.8" cy="534.2" r="2.1" fill="#0e0ed8"/>
<circle cx="115.6" cy="531" r="2.1" fill="#0e0ed8"/>
<circle cx="119.3" cy="527.8" r="2.1" fill="#0e0ed8"/>
<circle cx="123.6" cy="525.2" r="2.1" fill="#0e0ed8"/>
<circle cx="127.3" cy="522" r="2.1" fill="#0e0ed8"/>
<circle cx="128.9" cy="520.4" r="2.1" fill="#0e0ed8"/>
<circle cx="132.6" cy="517.8" r="2.1" fill="#0e0ed8"/>
<circle cx="134.7" cy="512.5" r="2.1" fill="#0e0ed8"/>
<circle cx="135.7" cy="512" r="2.1" fill="#0e0ed8"/>
<circle cx="142.1" cy="508.2" r="2.1" fill="#0e0ed8"/>
<circle cx="146.3" cy="507.4" r="2.1" fill="#0e0ed8"/>
<circle cx="151.6" cy="505.4" r="2.1" fill="#0e0ed8"/>
<circle cx="153.2" cy="501.7" r="2.1" fill="#0e0ed8"/>
<circle cx="154.8" cy="498.6" r="2.1" fill="#0e0ed8"/>
<circle cx="159.6" cy="497" r="2.1" fill="#0e0ed8"/>
<circle cx="162.8" cy="494.6" r="2.1" fill="#0e0ed8"/>
<circle cx="168.6" cy="492.2" r="2.1" fill="#0e0ed8"/>
<circle cx="170.7" cy="491.2" r="2.1" fill="#0e0ed8"/>
<circle cx="174.9" cy="491.2" r="2.1" fill="#0e0ed8"/>
<circle cx="178.6" cy="489" r="2.1" fill="#0e0ed8"/>
<circle cx="181.8" cy="487.5" r="2.1" fill="#0e0ed8"/>
<circle cx="186.6" cy="486.2" r="2.1" fill="#0e0ed8"/>
<circle cx="188.3" cy="483.5" r="2.1" fill="#0e0ed8"/>
<circle cx="190" cy="480" r="2.1" fill="#0e0ed8"/>
<circle cx="191" cy="477.7" r="2.1" fill="#0e0ed8"/>
<circle cx="199.2" cy="476.6" r="2.1" fill="#0e0ed8"/>
<circle cx="208" cy="475.7" r="2.1" fill="#0e0ed8"/>
<circle cx="213" cy="474.2" r="2.1" fill="#0e0ed8"/>
<circle cx="216.2" cy="471.5" r="2.1" fill="#0e0ed8"/>
<circle cx="218.5" cy="470" r="2.1" fill="#0e0ed8"/>
<circle cx="222.3" cy="468.9" r="2.1" fill="#0e0ed8"/>
<circle cx="250" cy="469.2" r="2.1" fill="#0e0ed8"/>
<text x="261.2" y="440.2" font-size="14.6" text-anchor="start" font-weight="bold" fill="#000">F</text>
<line x1="305.6" y1="453.6" x2="305.6" y2="564" stroke="#3c3c3c" stroke-width="1.1"/>
<line x1="302.8" y1="563.5" x2="305.6" y2="563.5" stroke="#3c3c3c" stroke-width="1.1"/>
<text x="301.7" y="566.6" font-size="9.0" text-anchor="end" font-weight="normal" fill="#000">0.0</text>
<line x1="302.8" y1="536.02" x2="305.6" y2="536.02" stroke="#3c3c3c" stroke-width="1.1"/>
<text x="301.7" y="539.12" font-size="9.0" text-anchor="end" font-weight="normal" fill="#000">0.1</text>
<line x1="302.8" y1="508.54" x2="305.6" y2="508.54" stroke="#3c3c3c" stroke-width="1.1"/>
<text x="301.7" y="511.64" font-size="9.0" text-anchor="end" font-weight="normal" fill="#000">0.2</text>
<line x1="302.8" y1="481.06" x2="305.6" y2="481.06" stroke="#3c3c3c" stroke-width="1.1"/>
<text x="301.7" y="484.16" font-size="9.0" text-anchor="end" font-weight="normal" fill="#000">0.3</text>
<line x1="302.8" y1="453.58" x2="305.6" y2="453.58" stroke="#3c3c3c" stroke-width="1.1"/>
<text x="301.7" y="456.68" font-size="9.0" text-anchor="end" font-weight="normal" fill="#000">0.4</text>
<line x1="305.6" y1="569.4" x2="519.8" y2="569.4" stroke="#3c3c3c" stroke-width="1.1"/>
<line x1="305.6" y1="563.5" x2="305.6" y2="569.4" stroke="#3c3c3c" stroke-width="1.1"/>
<line x1="316.1" y1="569.4" x2="316.1" y2="572" stroke="#3c3c3c" stroke-width="1.1"/>
<text x="316.4" y="580.7" font-size="7.9" text-anchor="middle" font-weight="normal" fill="#000" letter-spacing="-0.45" style="stroke-width:0.3px">0</text>
<line x1="325.35" y1="569.4" x2="325.35" y2="572" stroke="#3c3c3c" stroke-width="1.1"/>
<text x="325.65" y="580.7" font-size="7.9" text-anchor="middle" font-weight="normal" fill="#000" letter-spacing="-0.45" style="stroke-width:0.3px">1</text>
<line x1="334.6" y1="569.4" x2="334.6" y2="572" stroke="#3c3c3c" stroke-width="1.1"/>
<text x="334.9" y="580.7" font-size="7.9" text-anchor="middle" font-weight="normal" fill="#000" letter-spacing="-0.45" style="stroke-width:0.3px">2</text>
<line x1="343.85" y1="569.4" x2="343.85" y2="572" stroke="#3c3c3c" stroke-width="1.1"/>
<text x="344.15" y="580.7" font-size="7.9" text-anchor="middle" font-weight="normal" fill="#000" letter-spacing="-0.45" style="stroke-width:0.3px">3</text>
<line x1="353.1" y1="569.4" x2="353.1" y2="572" stroke="#3c3c3c" stroke-width="1.1"/>
<text x="353.4" y="580.7" font-size="7.9" text-anchor="middle" font-weight="normal" fill="#000" letter-spacing="-0.45" style="stroke-width:0.3px">4</text>
<line x1="362.35" y1="569.4" x2="362.35" y2="572" stroke="#3c3c3c" stroke-width="1.1"/>
<text x="362.65" y="580.7" font-size="7.9" text-anchor="middle" font-weight="normal" fill="#000" letter-spacing="-0.45" style="stroke-width:0.3px">5</text>
<line x1="371.6" y1="569.4" x2="371.6" y2="572" stroke="#3c3c3c" stroke-width="1.1"/>
<text x="371.9" y="580.7" font-size="7.9" text-anchor="middle" font-weight="normal" fill="#000" letter-spacing="-0.45" style="stroke-width:0.3px">6</text>
<line x1="380.85" y1="569.4" x2="380.85" y2="572" stroke="#3c3c3c" stroke-width="1.1"/>
<text x="381.15" y="580.7" font-size="7.9" text-anchor="middle" font-weight="normal" fill="#000" letter-spacing="-0.45" style="stroke-width:0.3px">7</text>
<line x1="390.1" y1="569.4" x2="390.1" y2="572" stroke="#3c3c3c" stroke-width="1.1"/>
<text x="390.4" y="580.7" font-size="7.9" text-anchor="middle" font-weight="normal" fill="#000" letter-spacing="-0.45" style="stroke-width:0.3px">8</text>
<line x1="399.35" y1="569.4" x2="399.35" y2="572" stroke="#3c3c3c" stroke-width="1.1"/>
<text x="399.65" y="580.7" font-size="7.9" text-anchor="middle" font-weight="normal" fill="#000" letter-spacing="-0.45" style="stroke-width:0.3px">9</text>
<line x1="408.6" y1="569.4" x2="408.6" y2="572" stroke="#3c3c3c" stroke-width="1.1"/>
<text x="408.9" y="580.7" font-size="7.9" text-anchor="middle" font-weight="normal" fill="#000" letter-spacing="-0.45" style="stroke-width:0.3px">10</text>
<line x1="417.85" y1="569.4" x2="417.85" y2="572" stroke="#3c3c3c" stroke-width="1.1"/>
<text x="418.15" y="580.7" font-size="7.9" text-anchor="middle" font-weight="normal" fill="#000" letter-spacing="-0.45" style="stroke-width:0.3px">11</text>
<line x1="427.1" y1="569.4" x2="427.1" y2="572" stroke="#3c3c3c" stroke-width="1.1"/>
<text x="427.4" y="580.7" font-size="7.9" text-anchor="middle" font-weight="normal" fill="#000" letter-spacing="-0.45" style="stroke-width:0.3px">12</text>
<line x1="436.35" y1="569.4" x2="436.35" y2="572" stroke="#3c3c3c" stroke-width="1.1"/>
<text x="436.65" y="580.7" font-size="7.9" text-anchor="middle" font-weight="normal" fill="#000" letter-spacing="-0.45" style="stroke-width:0.3px">13</text>
<line x1="445.6" y1="569.4" x2="445.6" y2="572" stroke="#3c3c3c" stroke-width="1.1"/>
<text x="445.9" y="580.7" font-size="7.9" text-anchor="middle" font-weight="normal" fill="#000" letter-spacing="-0.45" style="stroke-width:0.3px">14</text>
<line x1="454.85" y1="569.4" x2="454.85" y2="572" stroke="#3c3c3c" stroke-width="1.1"/>
<text x="455.15" y="580.7" font-size="7.9" text-anchor="middle" font-weight="normal" fill="#000" letter-spacing="-0.45" style="stroke-width:0.3px">15</text>
<line x1="464.1" y1="569.4" x2="464.1" y2="572" stroke="#3c3c3c" stroke-width="1.1"/>
<text x="464.4" y="580.7" font-size="7.9" text-anchor="middle" font-weight="normal" fill="#000" letter-spacing="-0.45" style="stroke-width:0.3px">16</text>
<line x1="473.35" y1="569.4" x2="473.35" y2="572" stroke="#3c3c3c" stroke-width="1.1"/>
<text x="473.65" y="580.7" font-size="7.9" text-anchor="middle" font-weight="normal" fill="#000" letter-spacing="-0.45" style="stroke-width:0.3px">17</text>
<line x1="482.6" y1="569.4" x2="482.6" y2="572" stroke="#3c3c3c" stroke-width="1.1"/>
<text x="482.9" y="580.7" font-size="7.9" text-anchor="middle" font-weight="normal" fill="#000" letter-spacing="-0.45" style="stroke-width:0.3px">18</text>
<line x1="491.85" y1="569.4" x2="491.85" y2="572" stroke="#3c3c3c" stroke-width="1.1"/>
<text x="492.15" y="580.7" font-size="7.9" text-anchor="middle" font-weight="normal" fill="#000" letter-spacing="-0.45" style="stroke-width:0.3px">19</text>
<line x1="501.1" y1="569.4" x2="501.1" y2="572" stroke="#3c3c3c" stroke-width="1.1"/>
<text x="501.4" y="580.7" font-size="7.9" text-anchor="middle" font-weight="normal" fill="#000" letter-spacing="-0.45" style="stroke-width:0.3px">20</text>
<line x1="510.35" y1="569.4" x2="510.35" y2="572" stroke="#3c3c3c" stroke-width="1.1"/>
<text x="510.65" y="580.7" font-size="7.9" text-anchor="middle" font-weight="normal" fill="#000" letter-spacing="-0.45" style="stroke-width:0.3px">21</text>
<text x="347.7" y="593.6" font-size="8.8" text-anchor="start" font-weight="normal" fill="#000">Time since randomization (weeks)</text>
<text transform="translate(271.3,508.3) rotate(-90)" font-size="8.8" text-anchor="middle" fill="#000">Number of level 2 and 3</text>
<text transform="translate(281.4,507.6) rotate(-90)" font-size="8.8" text-anchor="middle" fill="#000">hypoglycemic episodes per patient</text>
<polyline points="316.5,563.4 319.6,563.4 319.6,557.9 324.7,557.9 324.7,546.91 328.5,546.91 328.5,541.42 340.4,541.42 340.4,535.92 377.6,535.92 377.6,530.42 388.4,530.42 388.4,519.43 403.8,519.43 403.8,508.44 406.5,508.44 406.5,497.45 424.9,497.45 424.9,491.95 457.7,491.95 457.7,486.46 462.4,486.46 462.4,475.46 510.4,475.46" fill="none" stroke="#777777" stroke-width="1.0" stroke-linejoin="round" stroke-linejoin="miter"/>
<polyline points="337.6,557.9 359.1,557.9 359.1,555.16 360.6,555.16 360.6,552.41 362.1,552.41 362.1,549.66 363.6,549.66 363.6,546.91 365.5,546.91 365.5,544.16 367.6,544.16 367.6,541.42 375,541.42 375,538.67 377,538.67 377,535.92 379,535.92 379,533.17 381,533.17 381,530.42 383,530.42 383,527.68 385,527.68 385,524.93 387,524.93 387,522.18 389,522.18 389,519.43 391.5,519.43 391.5,516.68 393.5,516.68 393.5,513.94 395.5,513.94 395.5,511.19 398.5,511.19 398.5,508.44 401.5,508.44 401.5,505.69 403.8,505.69 403.8,502.94 436.5,502.94 436.5,497.45 449.7,497.45 449.7,491.95 451.3,491.95 451.3,489.2 453.5,489.2 453.5,486.46 456,486.46 456,483.71 458.9,483.71 458.9,480.96 460.5,480.96 460.5,478.21 462.4,478.21 462.4,476.56 510.4,476.56" fill="none" stroke="#48d2d8" stroke-width="1.0" stroke-linejoin="round" stroke-linejoin="miter"/>
<polyline points="316.5,563.4 337.6,563.4 337.6,557.9 337.6,557.9 337.6,552.41 441.6,552.41 441.6,546.91 510.5,546.91" fill="none" stroke="#24248e" stroke-width="1.0" stroke-linejoin="round" stroke-linejoin="miter"/>
<rect x="314.4" y="561.3" width="4.2" height="4.2" fill="#5a5c5c"/>
<rect x="317.5" y="555.8" width="4.2" height="4.2" fill="#5a5c5c"/>
<rect x="322.6" y="544.81" width="4.2" height="4.2" fill="#5a5c5c"/>
<rect x="326.4" y="539.32" width="4.2" height="4.2" fill="#5a5c5c"/>
<rect x="338.3" y="533.82" width="4.2" height="4.2" fill="#5a5c5c"/>
<rect x="375.5" y="528.32" width="4.2" height="4.2" fill="#5a5c5c"/>
<rect x="386.3" y="517.33" width="4.2" height="4.2" fill="#5a5c5c"/>
<rect x="401.7" y="506.34" width="4.2" height="4.2" fill="#5a5c5c"/>
<rect x="404.4" y="495.35" width="4.2" height="4.2" fill="#5a5c5c"/>
<rect x="422.8" y="489.85" width="4.2" height="4.2" fill="#5a5c5c"/>
<rect x="455.6" y="484.36" width="4.2" height="4.2" fill="#5a5c5c"/>
<rect x="460.3" y="473.36" width="4.2" height="4.2" fill="#5a5c5c"/>
<rect x="508.3" y="473.36" width="4.2" height="4.2" fill="#5a5c5c"/>
<polygon points="359.1,552.84 356.8,556.98 361.4,556.98" fill="#20cacd"/>
<polygon points="360.6,550.09 358.3,554.23 362.9,554.23" fill="#20cacd"/>
<polygon points="362.1,547.34 359.8,551.48 364.4,551.48" fill="#20cacd"/>
<polygon points="363.6,544.59 361.3,548.73 365.9,548.73" fill="#20cacd"/>
<polygon points="365.5,541.85 363.2,545.99 367.8,545.99" fill="#20cacd"/>
<polygon points="367.6,539.1 365.3,543.24 369.9,543.24" fill="#20cacd"/>
<polygon points="375,536.35 372.7,540.49 377.3,540.49" fill="#20cacd"/>
<polygon points="377,533.6 374.7,537.74 379.3,537.74" fill="#20cacd"/>
<polygon points="379,530.85 376.7,534.99 381.3,534.99" fill="#20cacd"/>
<polygon points="381,528.11 378.7,532.25 383.3,532.25" fill="#20cacd"/>
<polygon points="383,525.36 380.7,529.5 385.3,529.5" fill="#20cacd"/>
<polygon points="385,522.61 382.7,526.75 387.3,526.75" fill="#20cacd"/>
<polygon points="387,519.86 384.7,524 389.3,524" fill="#20cacd"/>
<polygon points="389,517.11 386.7,521.25 391.3,521.25" fill="#20cacd"/>
<polygon points="391.5,514.37 389.2,518.51 393.8,518.51" fill="#20cacd"/>
<polygon points="393.5,511.62 391.2,515.76 395.8,515.76" fill="#20cacd"/>
<polygon points="395.5,508.87 393.2,513.01 397.8,513.01" fill="#20cacd"/>
<polygon points="398.5,506.12 396.2,510.26 400.8,510.26" fill="#20cacd"/>
<polygon points="401.5,503.37 399.2,507.51 403.8,507.51" fill="#20cacd"/>
<polygon points="403.8,500.63 401.5,504.77 406.1,504.77" fill="#20cacd"/>
<polygon points="436.5,495.13 434.2,499.27 438.8,499.27" fill="#20cacd"/>
<polygon points="449.7,489.63 447.4,493.77 452,493.77" fill="#20cacd"/>
<polygon points="451.3,486.89 449,491.03 453.6,491.03" fill="#20cacd"/>
<polygon points="453.5,484.14 451.2,488.28 455.8,488.28" fill="#20cacd"/>
<polygon points="456,481.39 453.7,485.53 458.3,485.53" fill="#20cacd"/>
<polygon points="458.9,478.64 456.6,482.78 461.2,482.78" fill="#20cacd"/>
<polygon points="460.5,475.89 458.2,480.03 462.8,480.03" fill="#20cacd"/>
<polygon points="462.4,474.24 460.1,478.38 464.7,478.38" fill="#20cacd"/>
<polygon points="510.4,474.24 508.1,478.38 512.7,478.38" fill="#20cacd"/>
<circle cx="316.5" cy="563.4" r="2.4" fill="#0e0ed8"/>
<circle cx="337.6" cy="557.9" r="2.4" fill="#0e0ed8"/>
<circle cx="337.6" cy="552.41" r="2.4" fill="#0e0ed8"/>
<circle cx="441.6" cy="546.91" r="2.4" fill="#0e0ed8"/>
<circle cx="510.5" cy="546.91" r="2.4" fill="#0e0ed8"/>
</svg>
</body></html>
